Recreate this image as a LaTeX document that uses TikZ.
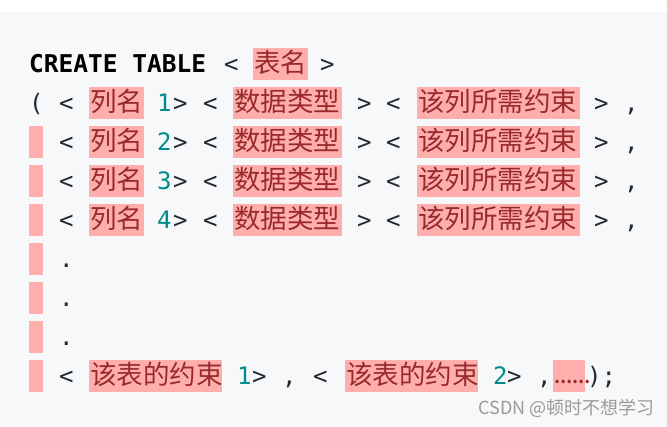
\documentclass[tikz,border=0pt]{standalone}
\usepackage{fontspec}
\setmonofont{DejaVu Sans Mono}
\newfontfamily\cjk{Noto Sans CJK SC}
\definecolor{bg}{HTML}{F6F8FA}
\definecolor{hl}{HTML}{FFAEAE}
\definecolor{cjkc}{HTML}{9A2A2A}
\definecolor{txt}{HTML}{24292E}
\definecolor{num}{HTML}{008B8B}
\definecolor{wm}{HTML}{9A9A9A}
\tikzset{
  tok/.style={anchor=base west,inner sep=0pt,font=\ttfamily\fontsize{24}{24}\selectfont,text=txt},
  numt/.style={tok,text=num},
  ct/.style={anchor=base west,inner sep=0pt,font=\cjk\fontsize{26.5}{26.5}\selectfont,text=cjkc},
}
\begin{document}
\begin{tikzpicture}[x=1pt,y=-1pt]
\useasboundingbox (0,0) rectangle (667,427);
\fill[bg] (0,12) rectangle (667,427);
% line 1
\node[tok,font=\ttfamily\bfseries\fontsize{24.5}{24.5}\selectfont,text=black] (create) at (29,73) {CREATE TABLE};
\node[tok] (l1a) at (224,73) {<};
\fill[hl] (253,48) rectangle (308,80);
\node[ct] (l1n) at (254,73) {表名};
\node[tok] (l1b) at (320,73) {>};
% lines 2-5
\foreach \i/\n in {0/1,1/2,2/3,3/4}{
  \pgfmathsetmacro\yc{103+39*\i}
  \ifnum\i=0
    \node[tok] (op\i) at (29,\yc+9) {(};
  \else
    \fill[hl] (29,\yc-16) rectangle (43,\yc+16);
  \fi
  \node[tok] (a\i) at (59,\yc+9) {<};
  \fill[hl] (89,\yc-16) rectangle (144,\yc+16);
  \node[ct] (c1\i) at (90,\yc+9) {列名};
  \node[numt] (n\i) at (157,\yc+9) {\n};
  \node[tok] (b\i) at (173,\yc+9) {>};
  \node[tok] (d\i) at (203,\yc+9) {<};
  \fill[hl] (233,\yc-16) rectangle (342,\yc+16);
  \node[ct] (c2\i) at (234,\yc+9) {数据类型};
  \node[tok] (e\i) at (357,\yc+9) {>};
  \node[tok] (f\i) at (386,\yc+9) {<};
  \fill[hl] (417,\yc-16) rectangle (580,\yc+16);
  \node[ct] (c3\i) at (418,\yc+9) {该列所需约束};
  \node[tok] (g\i) at (594,\yc+9) {>};
  \node[tok] (h\i) at (624,\yc+9) {,};
}
% dots
\foreach \i in {0,1,2}{
  \pgfmathsetmacro\yc{259+39*\i}
  \fill[hl] (29,\yc-16) rectangle (43,\yc+16);
  \node[tok] (dot\i) at (59,\yc+9) {.};
}
% last line
\fill[hl] (29,360) rectangle (43,392);
\node[tok] (la) at (59,385) {<};
\fill[hl] (89,360) rectangle (222,392);
\node[ct] (lc1) at (90,385) {该表的约束};
\node[numt] (ln1) at (237,385) {1};
\node[tok] (lb) at (252,385) {>};
\node[tok] (lcm) at (282,385) {,};
\node[tok] (ld) at (313,385) {<};
\fill[hl] (345,360) rectangle (478,392);
\node[ct] (lc2) at (346,385) {该表的约束};
\node[numt] (ln2) at (493,385) {2};
\node[tok] (le) at (507,385) {>};
\node[tok] (lcm2) at (537,385) {,};
\fill[hl] (553,360) rectangle (585,392);
\node[anchor=base west,inner sep=0pt,font=\cjk\bfseries\fontsize{16}{16}\selectfont,text=cjkc] (ell) at (554,384) {……};
\node[tok] (end) at (587,385) {);};
\node[anchor=base east,inner sep=0pt,font=\cjk\fontsize{18}{18}\selectfont,text=wm] (wmk) at (655,415) {CSDN @顿时不想学习};
\end{tikzpicture}
\end{document}
